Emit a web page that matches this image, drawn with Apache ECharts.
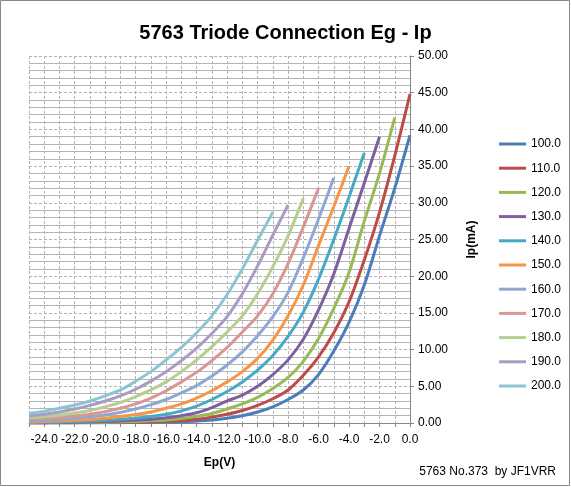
<!DOCTYPE html>
<html><head><meta charset="utf-8">
<script src="https://cdn.jsdelivr.net/npm/echarts@6/dist/echarts.min.js"></script>
<style>html,body{margin:0;padding:0;background:#fff}#c{width:571px;height:487px}</style>
</head><body><div id="c"></div>
<script>
// Grid voltage Eg (V), one point per volt starting at -25
const gridVoltages = [-25,-24,-23,-22,-21,-20,-19,-18,-17,-16,-15,-14,-13,-12,-11,-10,-9,-8,-7,-6,-5,-4,-3,-2,-1,0];
// Plate voltages (legend)
const plateVoltages = ['100.0','110.0','120.0','130.0','140.0','150.0','160.0','170.0','180.0','190.0','200.0'];
// Plate current Ip (mA), starting at Eg = -25
const ip100 = [0.005,0.007,0.01,0.015,0.02,0.03,0.045,0.065,0.09,0.13,0.18,0.26,0.4,0.65,1.0,1.5,2.2,3.2,4.5,6.6,9.8,13.7,18.8,25.5,32.0,39.2];
const ip110 = [0.01,0.015,0.02,0.03,0.04,0.06,0.08,0.11,0.16,0.23,0.34,0.5,0.8,1.2,1.7,2.4,3.3,4.5,6.5,9.0,12.3,16.5,22.2,28.7,36.4,44.8];
const ip120 = [0.02,0.03,0.04,0.06,0.08,0.11,0.15,0.21,0.3,0.42,0.6,0.9,1.3,1.9,2.6,3.5,4.7,6.2,8.4,11.5,15.6,20.5,27.5,34.0,41.6];
const ip130 = [0.04,0.05,0.07,0.1,0.14,0.2,0.28,0.38,0.5,0.7,1.0,1.4,2.1,3.0,3.8,5.0,6.6,8.6,11.4,15.4,20.3,26.5,32.7,39.0];
const ip140 = [0.08,0.1,0.14,0.19,0.26,0.36,0.5,0.68,0.9,1.2,1.65,2.3,3.2,4.3,5.6,7.2,9.2,11.8,15.1,19.6,25.0,30.8,36.8];
const ip150 = [0.15,0.2,0.27,0.36,0.48,0.65,0.87,1.15,1.5,2.0,2.6,3.4,4.4,5.6,7.0,8.8,11.3,14.6,18.8,24.2,29.5,35.0];
const ip160 = [0.3,0.38,0.5,0.65,0.85,1.1,1.45,1.9,2.5,3.2,4.1,5.1,6.4,7.9,9.7,11.9,14.5,17.8,22.5,27.8,33.4];
const ip170 = [0.5,0.6,0.75,0.95,1.2,1.55,2.0,2.6,3.4,4.4,5.6,6.9,8.5,10.3,12.4,14.6,17.6,21.7,26.7,32.0];
const ip180 = [0.7,0.85,1.05,1.35,1.7,2.2,2.8,3.6,4.5,5.6,7.0,8.6,10.4,12.4,14.6,17.6,21.3,25.5,30.6];
const ip190 = [1.0,1.2,1.5,1.9,2.4,3.0,3.7,4.6,5.7,7.0,8.5,10.2,12.2,14.5,17.6,21.4,25.6,29.7];
const ip200 = [1.3,1.6,2.0,2.45,3.0,3.7,4.5,5.7,7.0,8.6,10.3,12.3,14.6,17.5,21.0,24.9,28.7];

const allIp = [ip100,ip110,ip120,ip130,ip140,ip150,ip160,ip170,ip180,ip190,ip200];
const colors = ['#4A7EBB','#BE4B48','#98B954','#7D60A0','#46AAC5','#F69545','#8DA9D3','#D99694','#B6CE8E','#A99BC4','#8BC5D5'];
const FONT = 'Liberation Sans';
const gridColor = '#b4b4b4';

const chart = echarts.init(document.getElementById('c'), null, {renderer:'canvas'});
const series = allIp.map((arr,i)=>({
  name: plateVoltages[i], type:'line',
  data: arr.map((v,j)=>[gridVoltages[j], v]),
  showSymbol:false, smooth:0.3,
  lineStyle:{width:3,color:colors[i]}, itemStyle:{color:colors[i]},
  emphasis:{disabled:true}
}));

chart.setOption({
  animation:false,
  backgroundColor:'#fff',
  title:{text:'5763 Triode Connection Eg - Ip', left:'center', top:18,
    textStyle:{fontFamily:FONT, fontSize:20, fontWeight:'bold', color:'#000'}},
  grid:{left:29, right:161, top:56, bottom:64},
  legend:{orient:'vertical', left:494, top:132, itemWidth:27, itemHeight:3, itemGap:10.2, icon:'rect',
    data:plateVoltages, textStyle:{fontFamily:FONT, fontSize:12, lineHeight:14, color:'#000'}},
  xAxis:{type:'value', min:-25, max:0, interval:1,
    name:'Ep(V)', nameLocation:'middle', nameGap:34,
    nameTextStyle:{fontFamily:FONT, fontSize:12, fontWeight:'bold', color:'#000'},
    axisLine:{show:true, onZero:false, lineStyle:{color:'#868686', width:1}},
    axisTick:{show:true, length:4, lineStyle:{color:'#868686'}},
    axisLabel:{fontFamily:FONT, fontSize:12, color:'#000', margin:11,
      formatter:v=> (Math.round(v)%2===0) ? (v===0?'0.0':v.toFixed(1)) : ''},
    splitLine:{show:true, lineStyle:{color:gridColor, type:[3,2], width:1}}
  },
  yAxis:{type:'value', position:'right', min:0, max:50, interval:5,
    name:'Ip(mA)', nameLocation:'middle', nameGap:56, nameRotate:90,
    nameTextStyle:{fontFamily:FONT, fontSize:12, fontWeight:'bold', color:'#000'},
    axisLine:{show:true, onZero:false, lineStyle:{color:'#868686', width:1}},
    axisTick:{show:true, length:4, lineStyle:{color:'#868686'}},
    axisLabel:{fontFamily:FONT, fontSize:12, color:'#000', margin:8, formatter:v=>v.toFixed(2)},
    splitLine:{show:true, lineStyle:{color:gridColor, type:[3,2], width:1}},
    minorTick:{show:false, splitNumber:5},
    minorSplitLine:{show:true, lineStyle:{color:gridColor, type:'solid', width:1}}
  },
  graphic:[
    {type:'rect', shape:{x:0.5, y:0.5, width:569, height:485}, style:{fill:'none', stroke:'#888', lineWidth:1}, silent:true},
    {type:'text', right:15, top:466, style:{text:'5763 No.373  by JF1VRR', font:'12px "Liberation Sans"', fill:'#000'}}
  ],
  series: series
});
</script></body></html>
